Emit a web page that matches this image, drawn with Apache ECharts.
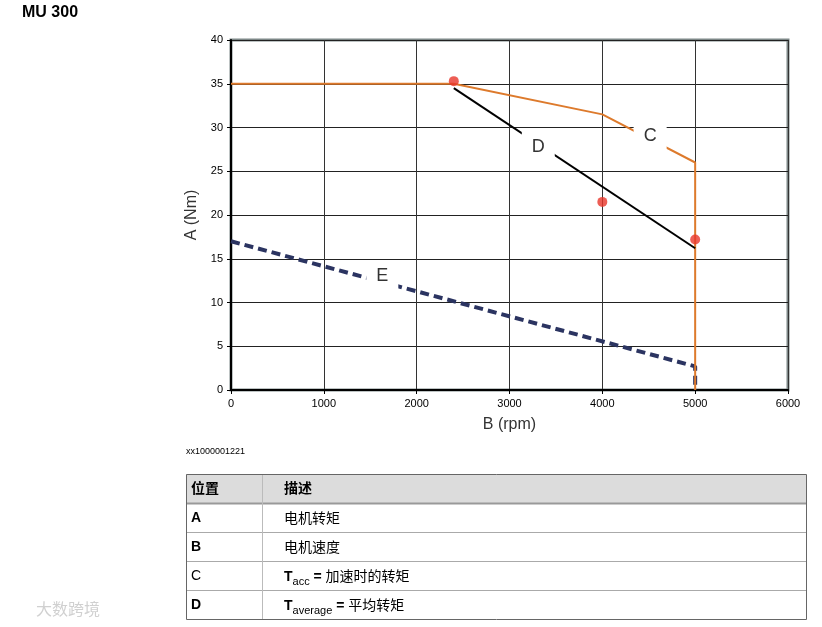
<!DOCTYPE html>
<html>
<head>
<meta charset="utf-8">
<script src="https://cdn.jsdelivr.net/npm/echarts@6/dist/echarts.min.js"></script>
<style>html,body{margin:0;padding:0;background:#fff}#c{width:822px;height:627px}</style>
</head>
<body>
<div id="c"></div>
<script>
// ---- data ----
var xTicks = [0, 1000, 2000, 3000, 4000, 5000, 6000];
var yTicks = [0, 5, 10, 15, 20, 25, 30, 35, 40];
var curveC = [[0, 35], [2400, 35], [4000, 31.5], [5000, 26], [5000, 0]];
var curveD = [[2400, 34.5], [5000, 16.2]];
var curveE = [[0, 17], [5000, 2.7], [5000, 0]];
var redPoints = [[2400, 35.3], [4000, 21.5], [5000, 17.2]];
var curveLabels = [['C', 4515, 29.0], ['D', 3310, 27.8], ['E', 1630, 13.0]];
var tableHeader = ['位置', '描述'];
var tableKeys = ['A', 'B', 'C', 'D'];
var tableDescs = ['电机转矩', '电机速度', '{b|T}{s|acc}{b| = }加速时的转矩', '{b|T}{s|average}{b| = }平均转矩'];
var tableKeyBold = [true, true, false, true];

var FONT = '"Liberation Sans", Arial, "Noto Sans CJK SC", sans-serif';
var chart = echarts.init(document.getElementById('c'));

// table graphics
var tX = 186, tW = 620, tY = 474, rowH = 29, colX = 262;
var g = [];
g.push({type:'text', left: 22, top: 5, style:{text:'MU 300', font:'bold 16px ' + FONT, fill:'#000'}});
g.push({type:'text', left: 186, top: 447, style:{text:'xx1000001221', font:'9px ' + FONT, fill:'#000'}});
g.push({type:'rect', shape:{x:tX, y:tY, width:tW, height:rowH}, style:{fill:'#dcdcdc'}});
for (var i = 1; i <= tableKeys.length; i++) {
  g.push({type:'line', shape:{x1:tX, y1:tY + i*rowH + 0.5, x2:tX + tW, y2:tY + i*rowH + 0.5}, style:{stroke: i === 1 ? '#999' : '#aaa', lineWidth: i === 1 ? 2 : 1}});
}
g.push({type:'line', shape:{x1:colX + 0.5, y1:tY, x2:colX + 0.5, y2:tY + 5*rowH}, style:{stroke:'#bbb', lineWidth:1}});
g.push({type:'rect', shape:{x:tX + 0.5, y:tY + 0.5, width:tW, height:5*rowH}, style:{fill:'none', stroke:'#666', lineWidth:1}});
g.push({type:'text', left: 191, top: tY + 8, style:{text:tableHeader[0], font:'bold 14px ' + FONT, fill:'#000'}});
g.push({type:'text', left: 284, top: tY + 8, style:{text:tableHeader[1], font:'bold 14px ' + FONT, fill:'#000'}});
for (var j = 0; j < tableKeys.length; j++) {
  var yy = tY + (j + 1) * rowH + 8;
  g.push({type:'text', left: 191, top: yy, style:{text:tableKeys[j], font:(tableKeyBold[j] ? 'bold ' : '') + '14px ' + FONT, fill:'#000'}});
  g.push({type:'text', left: 284, top: yy - 1, style:{
    text: tableDescs[j], font:'14px ' + FONT, fill:'#000', lineHeight: 18,
    rich:{
      b:{font:'bold 14px ' + FONT, fill:'#000', lineHeight:18},
      s:{font:'11px ' + FONT, fill:'#000', padding:[8,0,0,0], lineHeight:18}
    }
  }});
}
g.push({type:'text', left: 36, top: 601, style:{text:'大数跨境', font:'16px "Noto Sans CJK SC", sans-serif', fill:'#d0d0d0'}});

var option = {
  animation: false,
  backgroundColor: '#fff',
  textStyle: {fontFamily: FONT},
  grid: {left: 231, right: 34, top: 40, bottom: 237, show: true, borderColor: '#7d8787', borderWidth: 3, containLabel: false},
  xAxis: {
    type: 'value', min: 0, max: 6000, interval: 1000,
    name: 'B (rpm)', nameLocation: 'middle', nameGap: 27,
    nameTextStyle: {fontSize: 16, color: '#333', fontFamily: FONT},
    axisLine: {show: true, onZero: false, lineStyle: {color: '#000', width: 2}},
    axisTick: {show: true, length: 4, lineStyle: {color: '#000'}},
    axisLabel: {fontSize: 11, color: '#000', margin: 8, fontFamily: FONT,
      formatter: function (v) { return xTicks.indexOf(v) >= 0 ? String(v) : ''; }},
    splitLine: {show: true, lineStyle: {color: '#333', width: 1}}
  },
  yAxis: {
    type: 'value', min: 0, max: 40, interval: 5,
    name: 'A (Nm)', nameLocation: 'middle', nameGap: 21, nameRotate: 90,
    nameTextStyle: {fontSize: 16, color: '#333', fontFamily: FONT},
    axisLine: {show: true, onZero: false, lineStyle: {color: '#000', width: 2}},
    axisTick: {show: true, length: 4, lineStyle: {color: '#000'}},
    axisLabel: {fontSize: 11, color: '#000', margin: 8, fontFamily: FONT,
      formatter: function (v) { return yTicks.indexOf(v) >= 0 ? String(v) : ''; }},
    splitLine: {show: true, lineStyle: {color: '#222', width: 1}}
  },
  series: [
    {type: 'line', name: 'E', data: curveE, symbol: 'none', z: 3,
      lineStyle: {color: '#2b3461', width: 4, type: [9, 5]}},
    {type: 'line', name: 'C', data: curveC, symbol: 'none', z: 4,
      lineStyle: {color: '#dd7a2c', width: 2}},
    {type: 'line', name: 'D', data: curveD, symbol: 'none', z: 4,
      lineStyle: {color: '#000', width: 2}},
    {type: 'scatter', name: 'pts', data: redPoints, symbolSize: 10, z: 6,
      itemStyle: {color: '#e8362b'}},
    {type: 'scatter', name: 'labels', z: 8, symbolSize: 1,
      itemStyle: {color: '#ffffff', opacity: 1},
      data: curveLabels.map(function (d) { return {name: d[0], value: [d[1], d[2]]}; }),
      label: {show: true, position: 'inside', formatter: '{b}', fontSize: 18, color: '#333',
        fontFamily: FONT, backgroundColor: '#ffffff', opacity: 1, padding: [6, 10], lineHeight: 18}
    }
  ],
  graphic: g
};
chart.setOption(option);
</script>
</body>
</html>
